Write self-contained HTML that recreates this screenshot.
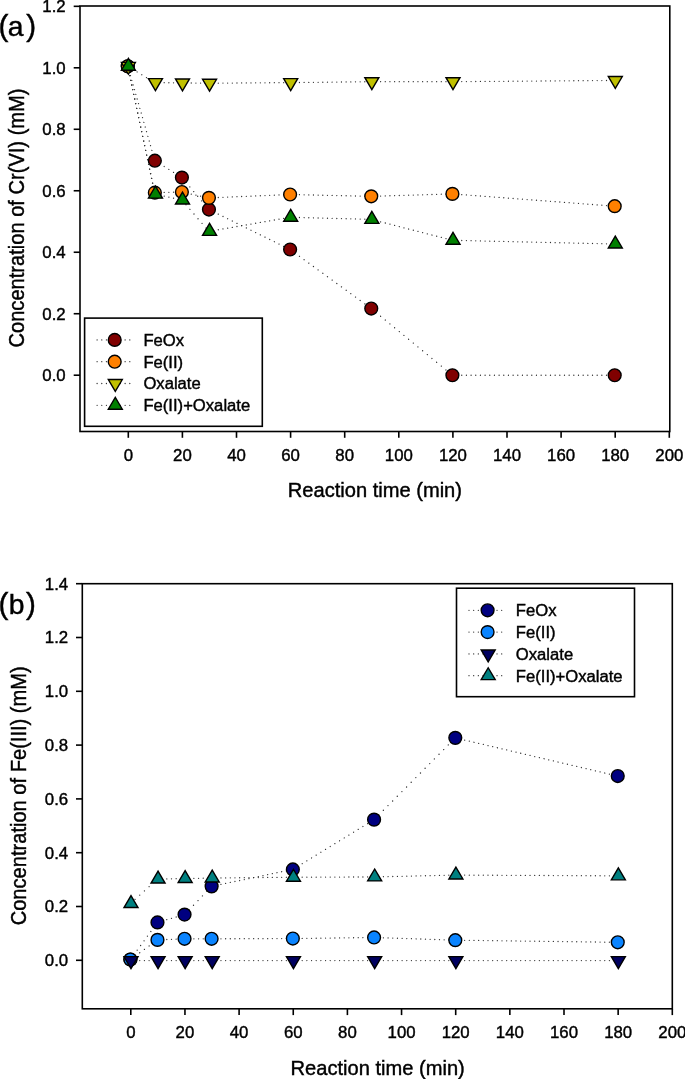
<!DOCTYPE html>
<html lang="en"><head><meta charset="utf-8"><title>Figure</title>
<style>html,body{margin:0;padding:0;background:#fff;}body{width:685px;height:1079px;overflow:hidden;}svg{display:block;}
svg text{font-family:"Liberation Sans", sans-serif;fill:#000;stroke:#000;stroke-width:0.42px;}</style></head><body>
<svg width="685" height="1079" viewBox="0 0 685 1079">
<rect width="685" height="1079" fill="#fff"/>
<g class="panel">
<g stroke="#303030" stroke-width="1.3" stroke-linecap="round" fill="none"><line x1="127.80" y1="66.31" x2="154.85" y2="160.68" stroke-dasharray="0.01 4.848"/><line x1="154.85" y1="160.68" x2="181.90" y2="177.58" stroke-dasharray="0.01 5.497"/><line x1="181.90" y1="177.58" x2="208.95" y2="209.55" stroke-dasharray="0.01 6.107"/><line x1="208.95" y1="209.55" x2="290.10" y2="249.52" stroke-dasharray="0.01 5.196"/><line x1="290.10" y1="249.52" x2="371.25" y2="308.54" stroke-dasharray="0.01 5.765"/><line x1="371.25" y1="308.54" x2="452.40" y2="375.24" stroke-dasharray="0.01 6.035"/><line x1="452.40" y1="375.24" x2="614.70" y2="375.24" stroke-dasharray="0.01 4.660"/></g>
<circle cx="127.80" cy="66.31" r="6.4" fill="#800000" stroke="#000" stroke-width="1.4"/>
<circle cx="154.85" cy="160.68" r="6.4" fill="#800000" stroke="#000" stroke-width="1.4"/>
<circle cx="181.90" cy="177.58" r="6.4" fill="#800000" stroke="#000" stroke-width="1.4"/>
<circle cx="208.95" cy="209.55" r="6.4" fill="#800000" stroke="#000" stroke-width="1.4"/>
<circle cx="290.10" cy="249.52" r="6.4" fill="#800000" stroke="#000" stroke-width="1.4"/>
<circle cx="371.25" cy="308.54" r="6.4" fill="#800000" stroke="#000" stroke-width="1.4"/>
<circle cx="452.40" cy="375.24" r="6.4" fill="#800000" stroke="#000" stroke-width="1.4"/>
<circle cx="614.70" cy="375.24" r="6.4" fill="#800000" stroke="#000" stroke-width="1.4"/>
<g stroke="#303030" stroke-width="1.3" stroke-linecap="round" fill="none"><line x1="127.80" y1="66.31" x2="154.85" y2="192.65" stroke-dasharray="0.01 4.766"/><line x1="154.85" y1="192.65" x2="181.90" y2="192.03" stroke-dasharray="0.01 4.661"/><line x1="181.90" y1="192.03" x2="208.95" y2="197.87" stroke-dasharray="0.01 4.768"/><line x1="208.95" y1="197.87" x2="290.10" y2="194.49" stroke-dasharray="0.01 4.664"/><line x1="290.10" y1="194.49" x2="371.25" y2="196.34" stroke-dasharray="0.01 4.661"/><line x1="371.25" y1="196.34" x2="452.40" y2="193.88" stroke-dasharray="0.01 4.662"/><line x1="452.40" y1="193.88" x2="614.70" y2="206.17" stroke-dasharray="0.01 4.673"/></g>
<circle cx="127.80" cy="66.31" r="6.4" fill="#FF8000" stroke="#000" stroke-width="1.4"/>
<circle cx="154.85" cy="192.65" r="6.4" fill="#FF8000" stroke="#000" stroke-width="1.4"/>
<circle cx="181.90" cy="192.03" r="6.4" fill="#FF8000" stroke="#000" stroke-width="1.4"/>
<circle cx="208.95" cy="197.87" r="6.4" fill="#FF8000" stroke="#000" stroke-width="1.4"/>
<circle cx="290.10" cy="194.49" r="6.4" fill="#FF8000" stroke="#000" stroke-width="1.4"/>
<circle cx="371.25" cy="196.34" r="6.4" fill="#FF8000" stroke="#000" stroke-width="1.4"/>
<circle cx="452.40" cy="193.88" r="6.4" fill="#FF8000" stroke="#000" stroke-width="1.4"/>
<circle cx="614.70" cy="206.17" r="6.4" fill="#FF8000" stroke="#000" stroke-width="1.4"/>
<g stroke="#303030" stroke-width="1.3" stroke-linecap="round" fill="none"><line x1="127.80" y1="66.31" x2="154.85" y2="82.60" stroke-dasharray="0.01 5.442"/><line x1="154.85" y1="82.60" x2="181.90" y2="82.91" stroke-dasharray="0.01 4.660"/><line x1="181.90" y1="82.91" x2="208.95" y2="83.21" stroke-dasharray="0.01 4.660"/><line x1="208.95" y1="83.21" x2="290.10" y2="82.60" stroke-dasharray="0.01 4.660"/><line x1="290.10" y1="82.60" x2="371.25" y2="81.68" stroke-dasharray="0.01 4.660"/><line x1="371.25" y1="81.68" x2="452.40" y2="81.68" stroke-dasharray="0.01 4.660"/><line x1="452.40" y1="81.68" x2="614.70" y2="80.45" stroke-dasharray="0.01 4.660"/></g>
<polygon points="128.40,74.24 121.40,62.34 135.40,62.34" fill="#C0C000" stroke="#000" stroke-width="1.4" stroke-linejoin="miter"/>
<polygon points="155.45,90.53 148.45,78.63 162.45,78.63" fill="#C0C000" stroke="#000" stroke-width="1.4" stroke-linejoin="miter"/>
<polygon points="182.50,90.84 175.50,78.94 189.50,78.94" fill="#C0C000" stroke="#000" stroke-width="1.4" stroke-linejoin="miter"/>
<polygon points="209.55,91.15 202.55,79.25 216.55,79.25" fill="#C0C000" stroke="#000" stroke-width="1.4" stroke-linejoin="miter"/>
<polygon points="290.70,90.53 283.70,78.63 297.70,78.63" fill="#C0C000" stroke="#000" stroke-width="1.4" stroke-linejoin="miter"/>
<polygon points="371.85,89.61 364.85,77.71 378.85,77.71" fill="#C0C000" stroke="#000" stroke-width="1.4" stroke-linejoin="miter"/>
<polygon points="453.00,89.61 446.00,77.71 460.00,77.71" fill="#C0C000" stroke="#000" stroke-width="1.4" stroke-linejoin="miter"/>
<polygon points="615.30,88.38 608.30,76.48 622.30,76.48" fill="#C0C000" stroke="#000" stroke-width="1.4" stroke-linejoin="miter"/>
<g stroke="#303030" stroke-width="1.3" stroke-linecap="round" fill="none"><line x1="127.80" y1="66.31" x2="154.85" y2="194.18" stroke-dasharray="0.01 4.763"/><line x1="154.85" y1="194.18" x2="181.90" y2="200.02" stroke-dasharray="0.01 4.768"/><line x1="181.90" y1="200.02" x2="208.95" y2="231.38" stroke-dasharray="0.01 6.158"/><line x1="208.95" y1="231.38" x2="290.10" y2="217.24" stroke-dasharray="0.01 4.730"/><line x1="290.10" y1="217.24" x2="371.25" y2="219.39" stroke-dasharray="0.01 4.662"/><line x1="371.25" y1="219.39" x2="452.40" y2="240.29" stroke-dasharray="0.01 4.812"/><line x1="452.40" y1="240.29" x2="614.70" y2="243.98" stroke-dasharray="0.01 4.661"/></g>
<polygon points="128.40,58.37 121.40,70.27 135.40,70.27" fill="#008000" stroke="#000" stroke-width="1.4" stroke-linejoin="miter"/>
<polygon points="155.45,186.25 148.45,198.15 162.45,198.15" fill="#008000" stroke="#000" stroke-width="1.4" stroke-linejoin="miter"/>
<polygon points="182.50,192.09 175.50,203.99 189.50,203.99" fill="#008000" stroke="#000" stroke-width="1.4" stroke-linejoin="miter"/>
<polygon points="209.55,223.45 202.55,235.35 216.55,235.35" fill="#008000" stroke="#000" stroke-width="1.4" stroke-linejoin="miter"/>
<polygon points="290.70,209.31 283.70,221.21 297.70,221.21" fill="#008000" stroke="#000" stroke-width="1.4" stroke-linejoin="miter"/>
<polygon points="371.85,211.46 364.85,223.36 378.85,223.36" fill="#008000" stroke="#000" stroke-width="1.4" stroke-linejoin="miter"/>
<polygon points="453.00,232.36 446.00,244.26 460.00,244.26" fill="#008000" stroke="#000" stroke-width="1.4" stroke-linejoin="miter"/>
<polygon points="615.30,236.05 608.30,247.95 622.30,247.95" fill="#008000" stroke="#000" stroke-width="1.4" stroke-linejoin="miter"/>
<rect x="80.0" y="6.0" width="589.8" height="425.5" fill="none" stroke="#000" stroke-width="1.6"/>
<line x1="128.30" y1="431.5" x2="128.30" y2="437.8" stroke="#000" stroke-width="1.6"/>
<text x="128.30" y="460.6" font-size="16.8" text-anchor="middle">0</text>
<line x1="182.40" y1="431.5" x2="182.40" y2="437.8" stroke="#000" stroke-width="1.6"/>
<text x="182.40" y="460.6" font-size="16.8" text-anchor="middle">20</text>
<line x1="236.50" y1="431.5" x2="236.50" y2="437.8" stroke="#000" stroke-width="1.6"/>
<text x="236.50" y="460.6" font-size="16.8" text-anchor="middle">40</text>
<line x1="290.60" y1="431.5" x2="290.60" y2="437.8" stroke="#000" stroke-width="1.6"/>
<text x="290.60" y="460.6" font-size="16.8" text-anchor="middle">60</text>
<line x1="344.70" y1="431.5" x2="344.70" y2="437.8" stroke="#000" stroke-width="1.6"/>
<text x="344.70" y="460.6" font-size="16.8" text-anchor="middle">80</text>
<line x1="398.80" y1="431.5" x2="398.80" y2="437.8" stroke="#000" stroke-width="1.6"/>
<text x="398.80" y="460.6" font-size="16.8" text-anchor="middle">100</text>
<line x1="452.90" y1="431.5" x2="452.90" y2="437.8" stroke="#000" stroke-width="1.6"/>
<text x="452.90" y="460.6" font-size="16.8" text-anchor="middle">120</text>
<line x1="507.00" y1="431.5" x2="507.00" y2="437.8" stroke="#000" stroke-width="1.6"/>
<text x="507.00" y="460.6" font-size="16.8" text-anchor="middle">140</text>
<line x1="561.10" y1="431.5" x2="561.10" y2="437.8" stroke="#000" stroke-width="1.6"/>
<text x="561.10" y="460.6" font-size="16.8" text-anchor="middle">160</text>
<line x1="615.20" y1="431.5" x2="615.20" y2="437.8" stroke="#000" stroke-width="1.6"/>
<text x="615.20" y="460.6" font-size="16.8" text-anchor="middle">180</text>
<line x1="669.30" y1="431.5" x2="669.30" y2="437.8" stroke="#000" stroke-width="1.6"/>
<text x="669.30" y="460.6" font-size="16.8" text-anchor="middle">200</text>
<line x1="73.7" y1="375.20" x2="80.0" y2="375.20" stroke="#000" stroke-width="1.6"/>
<text x="65.7" y="381.00" font-size="16.8" text-anchor="end">0.0</text>
<line x1="73.7" y1="313.72" x2="80.0" y2="313.72" stroke="#000" stroke-width="1.6"/>
<text x="65.7" y="319.52" font-size="16.8" text-anchor="end">0.2</text>
<line x1="73.7" y1="252.24" x2="80.0" y2="252.24" stroke="#000" stroke-width="1.6"/>
<text x="65.7" y="258.04" font-size="16.8" text-anchor="end">0.4</text>
<line x1="73.7" y1="190.76" x2="80.0" y2="190.76" stroke="#000" stroke-width="1.6"/>
<text x="65.7" y="196.56" font-size="16.8" text-anchor="end">0.6</text>
<line x1="73.7" y1="129.28" x2="80.0" y2="129.28" stroke="#000" stroke-width="1.6"/>
<text x="65.7" y="135.08" font-size="16.8" text-anchor="end">0.8</text>
<line x1="73.7" y1="67.80" x2="80.0" y2="67.80" stroke="#000" stroke-width="1.6"/>
<text x="65.7" y="73.60" font-size="16.8" text-anchor="end">1.0</text>
<line x1="73.7" y1="6.32" x2="80.0" y2="6.32" stroke="#000" stroke-width="1.6"/>
<text x="65.7" y="12.12" font-size="16.8" text-anchor="end">1.2</text>
<text x="374.9" y="497.3" font-size="20.1" text-anchor="middle">Reaction time (min)</text>
<text transform="translate(24.0,218.0) rotate(-90) scale(1,1.06)" font-size="20.1" text-anchor="middle">Concentration of Cr(VI) (mM)</text>
<text y="36.1" font-size="28.3"><tspan x="-1.5" font-size="29.6">(</tspan><tspan x="7.81">a</tspan><tspan x="26.35" font-size="29.6">)</tspan></text>
<rect x="84.6" y="318.1" width="177.7" height="108.2" fill="#fff" stroke="#000" stroke-width="1.6"/>
<g stroke="#303030" stroke-width="1.3" stroke-linecap="round" fill="none"><line x1="97.10" y1="339.90" x2="131.20" y2="339.90" stroke-dasharray="0.01 4.660"/></g>
<circle cx="114.70" cy="339.90" r="6.4" fill="#800000" stroke="#000" stroke-width="1.4"/>
<text x="143.40" y="345.70" font-size="16.65">FeOx</text>
<g stroke="#303030" stroke-width="1.3" stroke-linecap="round" fill="none"><line x1="97.10" y1="361.70" x2="131.20" y2="361.70" stroke-dasharray="0.01 4.660"/></g>
<circle cx="114.70" cy="361.70" r="6.4" fill="#FF8000" stroke="#000" stroke-width="1.4"/>
<text x="143.40" y="367.50" font-size="16.65">Fe(II)</text>
<g stroke="#303030" stroke-width="1.3" stroke-linecap="round" fill="none"><line x1="97.10" y1="383.50" x2="131.20" y2="383.50" stroke-dasharray="0.01 4.660"/></g>
<polygon points="115.30,391.43 108.30,379.53 122.30,379.53" fill="#C0C000" stroke="#000" stroke-width="1.4" stroke-linejoin="miter"/>
<text x="143.40" y="389.30" font-size="16.65">Oxalate</text>
<g stroke="#303030" stroke-width="1.3" stroke-linecap="round" fill="none"><line x1="97.10" y1="405.30" x2="131.20" y2="405.30" stroke-dasharray="0.01 4.660"/></g>
<polygon points="115.30,397.37 108.30,409.27 122.30,409.27" fill="#008000" stroke="#000" stroke-width="1.4" stroke-linejoin="miter"/>
<text x="143.40" y="411.10" font-size="16.65">Fe(II)+Oxalate</text>
</g>
<g class="panel">
<g stroke="#303030" stroke-width="1.3" stroke-linecap="round" fill="none"><line x1="130.40" y1="959.52" x2="157.47" y2="922.40" stroke-dasharray="0.01 5.770"/><line x1="157.47" y1="922.40" x2="184.55" y2="914.60" stroke-dasharray="0.01 4.850"/><line x1="184.55" y1="914.60" x2="211.62" y2="886.36" stroke-dasharray="0.01 6.459"/><line x1="211.62" y1="886.36" x2="292.85" y2="869.41" stroke-dasharray="0.01 4.761"/><line x1="292.85" y1="869.41" x2="374.08" y2="819.64" stroke-dasharray="0.01 5.467"/><line x1="374.08" y1="819.64" x2="455.30" y2="737.87" stroke-dasharray="0.01 6.572"/><line x1="455.30" y1="737.87" x2="617.75" y2="776.07" stroke-dasharray="0.01 4.787"/></g>
<circle cx="130.40" cy="959.52" r="6.4" fill="#000080" stroke="#000" stroke-width="1.4"/>
<circle cx="157.47" cy="922.40" r="6.4" fill="#000080" stroke="#000" stroke-width="1.4"/>
<circle cx="184.55" cy="914.60" r="6.4" fill="#000080" stroke="#000" stroke-width="1.4"/>
<circle cx="211.62" cy="886.36" r="6.4" fill="#000080" stroke="#000" stroke-width="1.4"/>
<circle cx="292.85" cy="869.41" r="6.4" fill="#000080" stroke="#000" stroke-width="1.4"/>
<circle cx="374.08" cy="819.64" r="6.4" fill="#000080" stroke="#000" stroke-width="1.4"/>
<circle cx="455.30" cy="737.87" r="6.4" fill="#000080" stroke="#000" stroke-width="1.4"/>
<circle cx="617.75" cy="776.07" r="6.4" fill="#000080" stroke="#000" stroke-width="1.4"/>
<g stroke="#303030" stroke-width="1.3" stroke-linecap="round" fill="none"><line x1="130.40" y1="959.52" x2="157.47" y2="939.89" stroke-dasharray="0.01 5.759"/><line x1="157.47" y1="939.89" x2="184.55" y2="938.81" stroke-dasharray="0.01 4.664"/><line x1="184.55" y1="938.81" x2="211.62" y2="938.81" stroke-dasharray="0.01 4.660"/><line x1="211.62" y1="938.81" x2="292.85" y2="938.54" stroke-dasharray="0.01 4.660"/><line x1="292.85" y1="938.54" x2="374.08" y2="937.47" stroke-dasharray="0.01 4.660"/><line x1="374.08" y1="937.47" x2="455.30" y2="940.16" stroke-dasharray="0.01 4.663"/><line x1="455.30" y1="940.16" x2="617.75" y2="942.31" stroke-dasharray="0.01 4.660"/></g>
<circle cx="130.40" cy="959.52" r="6.4" fill="#0A84FF" stroke="#000" stroke-width="1.4"/>
<circle cx="157.47" cy="939.89" r="6.4" fill="#0A84FF" stroke="#000" stroke-width="1.4"/>
<circle cx="184.55" cy="938.81" r="6.4" fill="#0A84FF" stroke="#000" stroke-width="1.4"/>
<circle cx="211.62" cy="938.81" r="6.4" fill="#0A84FF" stroke="#000" stroke-width="1.4"/>
<circle cx="292.85" cy="938.54" r="6.4" fill="#0A84FF" stroke="#000" stroke-width="1.4"/>
<circle cx="374.08" cy="937.47" r="6.4" fill="#0A84FF" stroke="#000" stroke-width="1.4"/>
<circle cx="455.30" cy="940.16" r="6.4" fill="#0A84FF" stroke="#000" stroke-width="1.4"/>
<circle cx="617.75" cy="942.31" r="6.4" fill="#0A84FF" stroke="#000" stroke-width="1.4"/>
<g stroke="#303030" stroke-width="1.3" stroke-linecap="round" fill="none"><line x1="130.40" y1="960.60" x2="157.47" y2="960.60" stroke-dasharray="0.01 4.660"/><line x1="157.47" y1="960.60" x2="184.55" y2="960.60" stroke-dasharray="0.01 4.660"/><line x1="184.55" y1="960.60" x2="211.62" y2="960.60" stroke-dasharray="0.01 4.660"/><line x1="211.62" y1="960.60" x2="292.85" y2="960.60" stroke-dasharray="0.01 4.660"/><line x1="292.85" y1="960.60" x2="374.08" y2="960.60" stroke-dasharray="0.01 4.660"/><line x1="374.08" y1="960.60" x2="455.30" y2="960.60" stroke-dasharray="0.01 4.660"/><line x1="455.30" y1="960.60" x2="617.75" y2="960.60" stroke-dasharray="0.01 4.660"/></g>
<polygon points="131.00,968.53 124.00,956.63 138.00,956.63" fill="#000060" stroke="#000" stroke-width="1.4" stroke-linejoin="miter"/>
<polygon points="158.07,968.53 151.07,956.63 165.07,956.63" fill="#000060" stroke="#000" stroke-width="1.4" stroke-linejoin="miter"/>
<polygon points="185.15,968.53 178.15,956.63 192.15,956.63" fill="#000060" stroke="#000" stroke-width="1.4" stroke-linejoin="miter"/>
<polygon points="212.22,968.53 205.22,956.63 219.22,956.63" fill="#000060" stroke="#000" stroke-width="1.4" stroke-linejoin="miter"/>
<polygon points="293.45,968.53 286.45,956.63 300.45,956.63" fill="#000060" stroke="#000" stroke-width="1.4" stroke-linejoin="miter"/>
<polygon points="374.68,968.53 367.68,956.63 381.68,956.63" fill="#000060" stroke="#000" stroke-width="1.4" stroke-linejoin="miter"/>
<polygon points="455.90,968.53 448.90,956.63 462.90,956.63" fill="#000060" stroke="#000" stroke-width="1.4" stroke-linejoin="miter"/>
<polygon points="618.35,968.53 611.35,956.63 625.35,956.63" fill="#000060" stroke="#000" stroke-width="1.4" stroke-linejoin="miter"/>
<g stroke="#303030" stroke-width="1.3" stroke-linecap="round" fill="none"><line x1="130.40" y1="903.57" x2="157.47" y2="879.09" stroke-dasharray="0.01 6.286"/><line x1="157.47" y1="879.09" x2="184.55" y2="878.55" stroke-dasharray="0.01 4.661"/><line x1="184.55" y1="878.55" x2="211.62" y2="878.02" stroke-dasharray="0.01 4.661"/><line x1="211.62" y1="878.02" x2="292.85" y2="877.21" stroke-dasharray="0.01 4.660"/><line x1="292.85" y1="877.21" x2="374.08" y2="876.94" stroke-dasharray="0.01 4.660"/><line x1="374.08" y1="876.94" x2="455.30" y2="875.06" stroke-dasharray="0.01 4.661"/><line x1="455.30" y1="875.06" x2="617.75" y2="875.86" stroke-dasharray="0.01 4.660"/></g>
<polygon points="131.00,895.64 124.00,907.54 138.00,907.54" fill="#008080" stroke="#000" stroke-width="1.4" stroke-linejoin="miter"/>
<polygon points="158.07,871.16 151.07,883.06 165.07,883.06" fill="#008080" stroke="#000" stroke-width="1.4" stroke-linejoin="miter"/>
<polygon points="185.15,870.62 178.15,882.52 192.15,882.52" fill="#008080" stroke="#000" stroke-width="1.4" stroke-linejoin="miter"/>
<polygon points="212.22,870.08 205.22,881.98 219.22,881.98" fill="#008080" stroke="#000" stroke-width="1.4" stroke-linejoin="miter"/>
<polygon points="293.45,869.28 286.45,881.18 300.45,881.18" fill="#008080" stroke="#000" stroke-width="1.4" stroke-linejoin="miter"/>
<polygon points="374.68,869.01 367.68,880.91 381.68,880.91" fill="#008080" stroke="#000" stroke-width="1.4" stroke-linejoin="miter"/>
<polygon points="455.90,867.12 448.90,879.02 462.90,879.02" fill="#008080" stroke="#000" stroke-width="1.4" stroke-linejoin="miter"/>
<polygon points="618.35,867.93 611.35,879.83 625.35,879.83" fill="#008080" stroke="#000" stroke-width="1.4" stroke-linejoin="miter"/>
<rect x="82.3" y="583.7" width="590.0" height="425.0999999999999" fill="none" stroke="#000" stroke-width="1.6"/>
<line x1="130.80" y1="1008.8" x2="130.80" y2="1015.0999999999999" stroke="#000" stroke-width="1.6"/>
<text x="130.80" y="1038.0" font-size="16.8" text-anchor="middle">0</text>
<line x1="184.95" y1="1008.8" x2="184.95" y2="1015.0999999999999" stroke="#000" stroke-width="1.6"/>
<text x="184.95" y="1038.0" font-size="16.8" text-anchor="middle">20</text>
<line x1="239.10" y1="1008.8" x2="239.10" y2="1015.0999999999999" stroke="#000" stroke-width="1.6"/>
<text x="239.10" y="1038.0" font-size="16.8" text-anchor="middle">40</text>
<line x1="293.25" y1="1008.8" x2="293.25" y2="1015.0999999999999" stroke="#000" stroke-width="1.6"/>
<text x="293.25" y="1038.0" font-size="16.8" text-anchor="middle">60</text>
<line x1="347.40" y1="1008.8" x2="347.40" y2="1015.0999999999999" stroke="#000" stroke-width="1.6"/>
<text x="347.40" y="1038.0" font-size="16.8" text-anchor="middle">80</text>
<line x1="401.55" y1="1008.8" x2="401.55" y2="1015.0999999999999" stroke="#000" stroke-width="1.6"/>
<text x="401.55" y="1038.0" font-size="16.8" text-anchor="middle">100</text>
<line x1="455.70" y1="1008.8" x2="455.70" y2="1015.0999999999999" stroke="#000" stroke-width="1.6"/>
<text x="455.70" y="1038.0" font-size="16.8" text-anchor="middle">120</text>
<line x1="509.85" y1="1008.8" x2="509.85" y2="1015.0999999999999" stroke="#000" stroke-width="1.6"/>
<text x="509.85" y="1038.0" font-size="16.8" text-anchor="middle">140</text>
<line x1="564.00" y1="1008.8" x2="564.00" y2="1015.0999999999999" stroke="#000" stroke-width="1.6"/>
<text x="564.00" y="1038.0" font-size="16.8" text-anchor="middle">160</text>
<line x1="618.15" y1="1008.8" x2="618.15" y2="1015.0999999999999" stroke="#000" stroke-width="1.6"/>
<text x="618.15" y="1038.0" font-size="16.8" text-anchor="middle">180</text>
<line x1="672.30" y1="1008.8" x2="672.30" y2="1015.0999999999999" stroke="#000" stroke-width="1.6"/>
<text x="672.30" y="1038.0" font-size="16.8" text-anchor="middle">200</text>
<line x1="76.0" y1="960.30" x2="82.3" y2="960.30" stroke="#000" stroke-width="1.6"/>
<text x="68.2" y="966.10" font-size="16.8" text-anchor="end">0.0</text>
<line x1="76.0" y1="906.50" x2="82.3" y2="906.50" stroke="#000" stroke-width="1.6"/>
<text x="68.2" y="912.30" font-size="16.8" text-anchor="end">0.2</text>
<line x1="76.0" y1="852.70" x2="82.3" y2="852.70" stroke="#000" stroke-width="1.6"/>
<text x="68.2" y="858.50" font-size="16.8" text-anchor="end">0.4</text>
<line x1="76.0" y1="798.90" x2="82.3" y2="798.90" stroke="#000" stroke-width="1.6"/>
<text x="68.2" y="804.70" font-size="16.8" text-anchor="end">0.6</text>
<line x1="76.0" y1="745.10" x2="82.3" y2="745.10" stroke="#000" stroke-width="1.6"/>
<text x="68.2" y="750.90" font-size="16.8" text-anchor="end">0.8</text>
<line x1="76.0" y1="691.30" x2="82.3" y2="691.30" stroke="#000" stroke-width="1.6"/>
<text x="68.2" y="697.10" font-size="16.8" text-anchor="end">1.0</text>
<line x1="76.0" y1="637.50" x2="82.3" y2="637.50" stroke="#000" stroke-width="1.6"/>
<text x="68.2" y="643.30" font-size="16.8" text-anchor="end">1.2</text>
<line x1="76.0" y1="583.70" x2="82.3" y2="583.70" stroke="#000" stroke-width="1.6"/>
<text x="68.2" y="589.50" font-size="16.8" text-anchor="end">1.4</text>
<text x="377.7" y="1074.5" font-size="20.1" text-anchor="middle">Reaction time (min)</text>
<text transform="translate(25.9,795.8) rotate(-90) scale(1,1.06)" font-size="20.1" text-anchor="middle">Concentration of Fe(III) (mM)</text>
<text y="614.2" font-size="28.3"><tspan x="-1.5" font-size="29.6">(</tspan><tspan x="8.7">b</tspan><tspan x="25.93" font-size="29.6">)</tspan></text>
<rect x="456.5" y="588.2" width="178.0" height="108.5" fill="#fff" stroke="#000" stroke-width="1.6"/>
<g stroke="#303030" stroke-width="1.3" stroke-linecap="round" fill="none"><line x1="469.00" y1="610.30" x2="503.10" y2="610.30" stroke-dasharray="0.01 4.660"/></g>
<circle cx="487.60" cy="610.30" r="6.4" fill="#000080" stroke="#000" stroke-width="1.4"/>
<text x="515.80" y="616.10" font-size="16.65">FeOx</text>
<g stroke="#303030" stroke-width="1.3" stroke-linecap="round" fill="none"><line x1="469.00" y1="632.10" x2="503.10" y2="632.10" stroke-dasharray="0.01 4.660"/></g>
<circle cx="487.60" cy="632.10" r="6.4" fill="#0A84FF" stroke="#000" stroke-width="1.4"/>
<text x="515.80" y="637.90" font-size="16.65">Fe(II)</text>
<g stroke="#303030" stroke-width="1.3" stroke-linecap="round" fill="none"><line x1="469.00" y1="653.90" x2="503.10" y2="653.90" stroke-dasharray="0.01 4.660"/></g>
<polygon points="488.20,661.83 481.20,649.93 495.20,649.93" fill="#000060" stroke="#000" stroke-width="1.4" stroke-linejoin="miter"/>
<text x="515.80" y="659.70" font-size="16.65">Oxalate</text>
<g stroke="#303030" stroke-width="1.3" stroke-linecap="round" fill="none"><line x1="469.00" y1="675.70" x2="503.10" y2="675.70" stroke-dasharray="0.01 4.660"/></g>
<polygon points="488.20,667.77 481.20,679.67 495.20,679.67" fill="#008080" stroke="#000" stroke-width="1.4" stroke-linejoin="miter"/>
<text x="515.80" y="681.50" font-size="16.65">Fe(II)+Oxalate</text>
</g>
</svg></body></html>
